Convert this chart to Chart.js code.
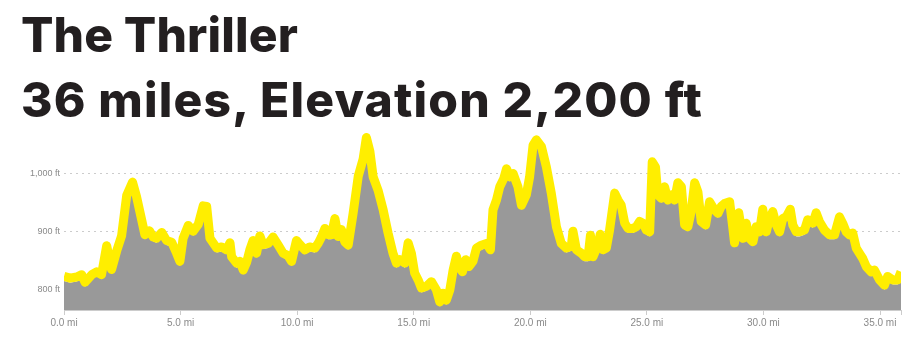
<!DOCTYPE html>
<html><head><meta charset="utf-8">
<script src="https://cdn.jsdelivr.net/npm/chart.js@4/dist/chart.umd.min.js"></script>
<style>
html,body{margin:0;padding:0;background:#fff;width:918px;height:346px;overflow:hidden;}
#wrap{position:absolute;left:0;top:0;width:918px;height:346px;}
#t{position:absolute;left:21px;top:2px;font-family:Inter,sans-serif;font-weight:800;font-size:48px;line-height:65px;color:#231f20;white-space:nowrap;}
#t span{display:inline-block;}
</style></head><body>
<div id="wrap"><canvas id="c" width="918" height="346"></canvas></div>
<div id="t"></div>
<script>
const titleLines = ["The Thriller", "36 miles, Elevation 2,200 ft"];
const titleWidths = [277, 682];

const miles = [
0.00,0.26,0.54,0.76,0.90,1.19,1.40,1.61,1.83,2.04,2.26,2.47,2.69,2.94,3.11,3.33,3.47,3.66,3.83,3.97,
4.19,4.40,4.62,4.83,4.97,5.11,5.33,5.54,5.76,5.97,6.12,6.26,6.55,6.76,6.97,7.12,7.19,7.40,7.54,7.69,
7.83,7.97,8.11,8.26,8.40,8.54,8.76,8.97,9.19,9.40,9.61,9.76,9.97,10.12,10.33,10.54,10.76,10.90,11.04,11.19,
11.33,11.47,11.62,11.76,11.90,12.04,12.19,12.40,12.62,12.83,12.97,13.12,13.26,13.47,13.69,13.90,14.11,14.26,14.40,14.62,
14.76,14.90,15.04,15.19,15.33,15.55,15.76,15.97,16.12,16.26,16.40,16.55,16.69,16.83,16.94,17.09,17.23,17.37,17.54,17.69,
17.90,18.12,18.29,18.40,18.55,18.69,18.86,18.98,19.12,19.26,19.47,19.62,19.83,19.97,20.12,20.26,20.48,20.69,20.90,21.12,
21.33,21.55,21.76,21.83,21.98,22.19,22.33,22.48,22.58,22.69,22.90,23.00,23.12,23.26,23.40,23.62,23.76,23.90,24.05,24.19,
24.40,24.55,24.69,24.83,24.98,25.12,25.23,25.37,25.47,25.62,25.76,25.90,26.05,26.19,26.33,26.48,26.62,26.76,26.90,27.05,
27.19,27.33,27.52,27.69,27.90,28.05,28.19,28.33,28.55,28.69,28.76,28.94,29.12,29.26,29.40,29.55,29.69,29.83,29.97,30.12,
30.26,30.40,30.55,30.69,30.83,30.98,31.15,31.26,31.41,31.55,31.76,31.90,32.12,32.26,32.40,32.62,32.83,33.05,33.26,33.40,
33.55,33.69,33.83,33.98,34.12,34.26,34.41,34.62,34.76,34.98,35.19,35.33,35.55,35.76,35.90
];

const elevationFt = [
822,819,821,825,812,825,830,825,875,834,866,892,962,985,960,920,894,901,890,888,
898,884,881,862,848,888,910,900,912,944,943,888,871,873,868,880,856,845,848,833,
846,868,884,862,892,877,879,890,876,862,858,848,884,877,868,873,871,879,890,905,
894,894,922,891,903,882,876,931,995,1025,1062,1038,994,971,937,897,862,845,851,845,
880,862,828,816,802,805,813,799,778,793,781,799,833,857,839,830,851,839,848,871,
876,879,868,937,954,977,991,1008,994,1000,977,945,963,994,1049,1058,1046,1011,966,908,
879,871,874,900,868,862,856,856,893,856,876,895,868,871,902,966,954,945,914,905,
905,908,917,914,902,899,1020,1011,963,957,977,954,963,954,984,977,911,908,934,984,
968,917,911,951,937,931,943,948,951,905,880,932,888,914,888,882,908,899,938,899,
922,934,911,899,922,925,938,911,899,899,902,920,914,932,917,902,894,894,925,914,
899,894,897,871,862,853,839,830,833,816,807,822,816,816,830
];

const xTickValues = [0, 5, 10, 15, 20, 25, 30, 35];
const xEnd = 35.9;
const yTickValues = [800, 900, 1000];
const yMin = 764, yMax = 1075;
// the gray fill sits just under the yellow stroke: its scale is shifted by half the stroke (in ft)
const grayShiftFt = 7.8;

const tEl = document.getElementById('t');
titleLines.forEach((s, i) => {
  const d = document.createElement('div');
  const sp = document.createElement('span');
  sp.textContent = s;
  d.appendChild(sp);
  tEl.appendChild(d);
  const w = sp.getBoundingClientRect().width;
  const ls = (titleWidths[i] - w) / s.length;
  sp.style.letterSpacing = ls.toFixed(2) + 'px';
});

const points = miles.map((m, i) => ({x: m, y: elevationFt[i]}));

new Chart(document.getElementById('c'), {
  type: 'line',
  data: {
    datasets: [
      {
        data: points,
        yAxisID: 'y',
        borderWidth: 9,
        borderColor: '#ffee00',
        borderJoinStyle: 'round',
        borderCapStyle: 'butt',
        fill: false,
        pointRadius: 0,
        tension: 0,
        order: 0
      },
      {
        data: points,
        yAxisID: 'yGray',
        borderWidth: 0,
        borderColor: 'rgba(0,0,0,0)',
        backgroundColor: '#999999',
        fill: 'start',
        pointRadius: 0,
        tension: 0,
        order: 1
      }
    ]
  },
  options: {
    responsive: false,
    animation: false,
    events: [],
    layout: {padding: {top: 130, right: 17, left: 0, bottom: 0}},
    plugins: {legend: {display: false}, tooltip: {enabled: false}, title: {display: false}},
    scales: {
      x: {
        type: 'linear',
        min: 0,
        max: xEnd,
        afterBuildTicks: s => { s.ticks = xTickValues.concat([xEnd]).map(v => ({value: v})); },
        afterFit: s => { s.height = 36; },
        ticks: {
          autoSkip: false,
          maxRotation: 0,
          padding: 2,
          color: '#8a8a8a',
          font: {family: 'Liberation Sans', size: 10},
          callback: v => xTickValues.includes(v) ? v.toFixed(1) + ' mi' : ''
        },
        grid: {drawOnChartArea: false, tickLength: 5, color: '#cccccc'},
        border: {color: '#cccccc', width: 1}
      },
      y: {
        min: yMin,
        max: yMax,
        z: 1,
        afterBuildTicks: s => { s.ticks = yTickValues.map(v => ({value: v})); },
        afterFit: s => { s.width = 64; },
        ticks: {
          padding: 4,
          color: '#8a8a8a',
          font: {family: 'Liberation Sans', size: 9},
          callback: v => v.toLocaleString('en-US') + ' ft'
        },
        grid: {drawTicks: false, color: 'rgba(0,0,0,0.2)'},
        border: {display: false, dash: [2, 4]}
      },
      yGray: {
        display: false,
        min: yMin + grayShiftFt,
        max: yMax + grayShiftFt
      }
    }
  }
});
</script>
</body></html>
